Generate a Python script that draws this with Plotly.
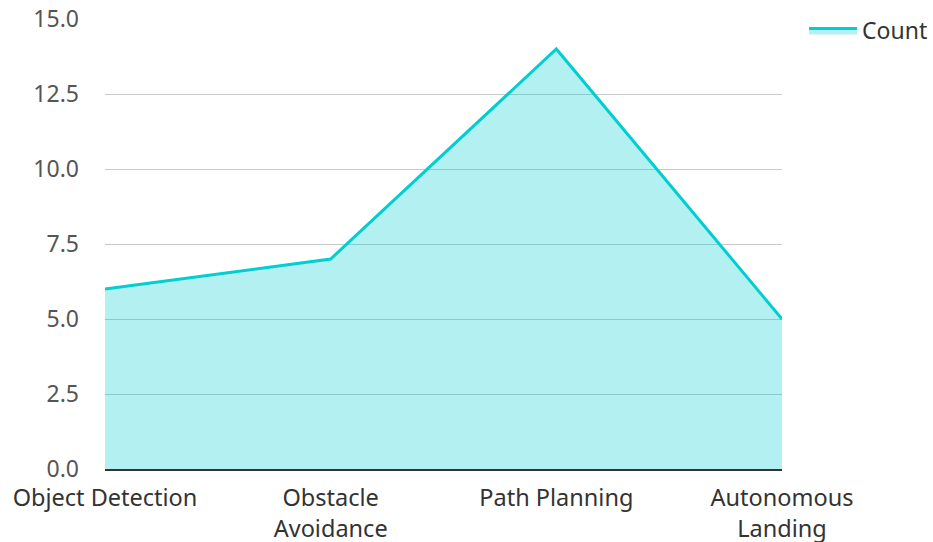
import plotly.graph_objects as go

categories = ["Object Detection", "Obstacle<br>Avoidance", "Path Planning", "Autonomous<br>Landing"]
counts = [6, 7, 14, 5]
y_ticks = [0, 2.5, 5, 7.5, 10, 12.5, 15]

fig = go.Figure()
fig.add_trace(go.Scatter(
    x=categories, y=counts, name="Count", mode="lines",
    fill="tozeroy", fillcolor="rgba(0,206,209,0.3)",
    line=dict(color="#00CED1", width=3),
))
fig.update_layout(
    width=933, height=542,
    margin=dict(l=105, r=151, t=19, b=73),
    paper_bgcolor="white", plot_bgcolor="white",
    font=dict(family="Noto Sans", size=23, color="#333"),
    showlegend=True,
    legend=dict(xref="container", yref="container", x=0.8618, y=0.9834,
                xanchor="left", yanchor="top", itemwidth=48,
                font=dict(size=23, color="#333")),
    xaxis=dict(showgrid=False, showline=True, linecolor="#333", linewidth=2,
               range=[0, 3], tickfont=dict(size=23.5, color="#333"),
               ticks="", automargin=False, ticklabelstandoff=7),
    yaxis=dict(range=[0, 15], tickvals=y_ticks, tickformat=".1f",
               showgrid=True, gridcolor="#c8c8c8", gridwidth=1,
               zeroline=False, showline=False, ticks="",
               tickfont=dict(size=23, color="#555"),
               ticklabelstandoff=25, automargin=False,
               ticklabeloverflow="allow"),
)
fig.write_html("out.html", config={"displayModeBar": False},
               post_script="document.body.style.margin='0';")
